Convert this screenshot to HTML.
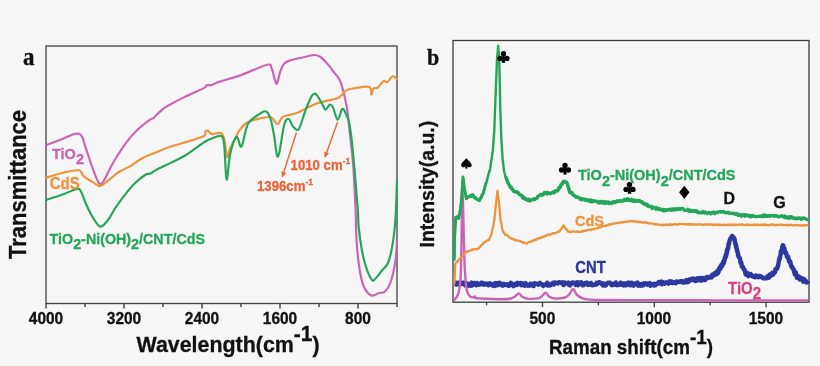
<!DOCTYPE html>
<html><head><meta charset="utf-8"><style>
html,body{margin:0;padding:0;background:#f6f6f6;}
svg{display:block;filter:blur(0.35px);}
</style></head><body>
<svg width="820" height="366" viewBox="0 0 820 366">
<rect x="0" y="0" width="820" height="366" fill="#f6f6f6"/>
<rect x="46" y="46" width="351" height="257.5" fill="none" stroke="#484848" stroke-width="1.35"/>
<line x1="46" y1="303.5" x2="46" y2="308.5" stroke="#3c3c3c" stroke-width="1.4"/>
<line x1="85" y1="303.5" x2="85" y2="307.0" stroke="#3c3c3c" stroke-width="1.4"/>
<line x1="124" y1="303.5" x2="124" y2="308.5" stroke="#3c3c3c" stroke-width="1.4"/>
<line x1="163" y1="303.5" x2="163" y2="307.0" stroke="#3c3c3c" stroke-width="1.4"/>
<line x1="202" y1="303.5" x2="202" y2="308.5" stroke="#3c3c3c" stroke-width="1.4"/>
<line x1="241" y1="303.5" x2="241" y2="307.0" stroke="#3c3c3c" stroke-width="1.4"/>
<line x1="280" y1="303.5" x2="280" y2="308.5" stroke="#3c3c3c" stroke-width="1.4"/>
<line x1="319" y1="303.5" x2="319" y2="307.0" stroke="#3c3c3c" stroke-width="1.4"/>
<line x1="358" y1="303.5" x2="358" y2="308.5" stroke="#3c3c3c" stroke-width="1.4"/>
<line x1="397" y1="303.5" x2="397" y2="307.0" stroke="#3c3c3c" stroke-width="1.4"/>
<text transform="translate(46,324.3) scale(1,1.07)" x="0" y="0" font-family="Liberation Sans, sans-serif" font-weight="bold" font-size="15.5" text-anchor="middle" fill="#111" stroke="#111" stroke-width="0.3">4000</text>
<text transform="translate(124,324.3) scale(1,1.07)" x="0" y="0" font-family="Liberation Sans, sans-serif" font-weight="bold" font-size="15.5" text-anchor="middle" fill="#111" stroke="#111" stroke-width="0.3">3200</text>
<text transform="translate(202,324.3) scale(1,1.07)" x="0" y="0" font-family="Liberation Sans, sans-serif" font-weight="bold" font-size="15.5" text-anchor="middle" fill="#111" stroke="#111" stroke-width="0.3">2400</text>
<text transform="translate(280,324.3) scale(1,1.07)" x="0" y="0" font-family="Liberation Sans, sans-serif" font-weight="bold" font-size="15.5" text-anchor="middle" fill="#111" stroke="#111" stroke-width="0.3">1600</text>
<text transform="translate(358,324.3) scale(1,1.07)" x="0" y="0" font-family="Liberation Sans, sans-serif" font-weight="bold" font-size="15.5" text-anchor="middle" fill="#111" stroke="#111" stroke-width="0.3">800</text>
<text transform="translate(136.5,351.5) scale(1,1.07)" x="0" y="0" font-family="Liberation Sans, sans-serif" font-weight="bold" font-size="21.4" fill="#111" stroke="#111" stroke-width="0.3">Wavelength(cm<tspan dy="-10" font-size="21">-1</tspan><tspan dy="10">)</tspan></text>
<text transform="translate(25.6,259) rotate(-90) scale(1,1.07)" x="0" y="0" font-family="Liberation Sans, sans-serif" font-weight="bold" font-size="22" fill="#111" stroke="#111" stroke-width="0.3">Transmittance</text>
<text transform="translate(23,64.5) scale(1,1.07)" x="0" y="0" font-family="Liberation Serif, serif" font-weight="bold" font-size="23" fill="#111" stroke="#111" stroke-width="0.3">a</text>
<path d="M46.0,145.0 C48.3,144.2 55.5,141.8 60.0,140.0 C64.5,138.2 69.8,135.6 72.8,134.5 C75.8,133.4 76.8,133.3 78.3,133.6 C79.8,133.9 80.7,134.0 82.0,136.5 C83.3,139.0 84.2,143.2 85.9,148.4 C87.7,153.7 90.5,162.5 92.5,168.0 C94.5,173.5 96.5,178.5 97.9,181.2 C99.4,183.9 99.9,184.9 101.2,184.3 C102.5,183.7 104.1,180.1 105.6,177.5 C107.1,174.9 108.1,172.0 110.0,168.5 C111.9,165.0 113.9,161.2 116.9,156.5 C119.9,151.8 124.1,145.2 127.8,140.6 C131.4,135.9 135.2,132.1 138.8,128.6 C142.5,125.1 147.3,121.5 149.7,119.8 C152.1,118.1 152.0,119.1 153.0,118.5 C154.0,117.9 154.2,117.2 155.5,116.0 C156.8,114.8 158.8,112.6 160.6,111.1 C162.4,109.6 162.3,109.1 166.2,106.8 C170.1,104.5 177.9,100.2 184.2,97.1 C190.5,94.0 200.0,90.1 203.8,88.1 C207.6,86.1 205.6,85.6 206.8,85.1 C208.1,84.6 209.1,85.7 211.3,85.1 C213.5,84.5 215.2,83.1 220.0,81.5 C224.8,79.9 232.2,78.3 240.1,75.5 C247.9,72.7 261.8,65.9 267.1,64.7 C272.4,63.6 270.4,66.2 271.7,68.6 C273.0,71.0 273.8,76.6 274.7,79.1 C275.6,81.6 275.9,84.6 276.8,83.6 C277.7,82.6 278.7,76.3 279.8,73.1 C280.9,69.8 282.1,66.2 283.7,64.1 C285.3,62.0 286.9,61.5 289.7,60.5 C292.4,59.5 296.2,58.9 300.2,58.0 C304.2,57.1 310.5,55.2 313.8,55.0 C317.1,54.8 317.6,55.1 319.8,56.5 C322.0,57.9 324.5,60.6 327.0,63.4 C329.5,66.2 332.4,70.2 334.6,73.1 C336.8,75.9 338.4,76.7 340.0,80.5 C341.6,84.3 343.3,90.9 344.5,96.0 C345.7,101.1 346.5,104.8 347.4,111.0 C348.3,117.2 349.1,126.7 349.8,133.2 C350.5,139.7 351.1,144.0 351.7,150.0 C352.3,156.0 352.9,159.0 353.5,169.0 C354.1,179.0 355.1,198.3 355.6,210.0 C356.1,221.7 355.9,229.2 356.5,239.0 C357.1,248.8 358.2,261.0 359.5,269.0 C360.8,277.0 362.0,282.6 364.0,287.0 C366.0,291.4 369.0,294.4 371.5,295.4 C374.0,296.4 376.8,293.6 379.0,293.0 C381.2,292.4 383.0,293.5 385.0,291.5 C387.0,289.5 389.2,286.2 391.0,281.0 C392.8,275.8 394.5,266.8 395.5,260.0 C396.5,253.2 396.8,243.3 397.0,240.0" fill="none" stroke="#c963b4" stroke-width="2.15" stroke-linejoin="round" stroke-linecap="round"/>
<path d="M46.0,177.8 C49.0,176.9 58.5,173.8 64.0,172.5 C69.5,171.2 75.7,169.7 79.0,170.3 C82.3,171.0 81.5,174.5 83.8,176.4 C86.0,178.3 89.8,180.3 92.5,181.9 C95.2,183.5 97.7,186.2 100.2,186.0 C102.8,185.8 104.7,183.1 107.8,180.8 C110.9,178.5 115.2,174.4 118.8,172.0 C122.4,169.6 126.2,168.7 129.7,166.6 C133.2,164.5 136.3,161.6 140.0,159.5 C143.7,157.4 147.7,155.8 151.9,154.0 C156.1,152.2 162.0,150.0 165.0,148.8 C168.0,147.6 163.8,148.8 170.0,146.8 C176.2,144.8 196.4,139.4 202.3,136.8 C208.2,134.2 204.3,132.0 205.3,131.0 C206.3,130.0 207.2,130.5 208.3,131.0 C209.4,131.5 209.8,133.8 211.9,134.1 C214.0,134.4 218.9,132.2 221.0,133.0 C223.1,133.8 223.2,135.0 224.2,139.0 C225.2,143.0 226.2,155.5 227.2,157.0 C228.2,158.5 228.7,151.4 230.2,148.0 C231.7,144.6 234.7,139.4 236.2,136.6 C237.7,133.8 237.0,133.4 239.0,131.0 C241.0,128.6 242.9,124.3 248.0,122.0 C253.1,119.7 264.9,116.9 269.5,117.0 C274.1,117.1 274.0,121.4 275.5,122.5 C277.0,123.6 277.2,124.4 278.5,123.5 C279.8,122.6 279.9,118.8 283.0,117.0 C286.1,115.2 292.7,114.7 297.0,113.0 C301.3,111.3 305.5,108.7 309.0,107.0 C312.5,105.3 313.5,104.4 318.0,103.0 C322.5,101.6 332.3,99.8 336.0,98.8 C339.7,97.8 338.2,98.1 340.0,96.7 C341.8,95.3 344.4,91.6 346.6,90.2 C348.8,88.8 349.3,89.0 353.1,88.5 C356.9,88.0 366.3,85.9 369.3,86.9 C372.3,87.9 370.6,94.2 371.3,94.5 C372.0,94.8 372.3,89.7 373.4,88.6 C374.5,87.5 376.0,89.0 377.7,87.7 C379.4,86.5 381.8,82.0 383.4,81.1 C385.0,80.1 386.0,82.8 387.5,82.0 C389.0,81.2 390.9,76.7 392.5,76.2 C394.1,75.7 396.2,78.5 397.0,78.9" fill="none" stroke="#ec933c" stroke-width="2.15" stroke-linejoin="round" stroke-linecap="round"/>
<path d="M46.0,200.0 C49.0,199.0 58.7,195.9 64.0,194.0 C69.3,192.1 74.7,188.9 77.6,188.7 C80.5,188.5 80.2,190.3 81.6,192.8 C83.0,195.3 84.1,199.8 85.9,203.8 C87.7,207.8 90.1,213.1 92.5,216.9 C94.9,220.7 97.7,226.1 100.2,226.7 C102.8,227.2 105.4,223.1 107.8,220.2 C110.2,217.3 111.9,213.3 114.4,209.5 C117.0,205.7 119.8,201.4 123.1,197.2 C126.4,193.0 130.4,187.8 134.1,184.1 C137.8,180.4 142.3,176.8 145.0,175.0 C147.7,173.2 148.8,174.3 150.5,173.6 C152.2,172.9 151.7,172.3 155.0,170.6 C158.3,168.8 165.1,165.6 170.1,163.1 C175.1,160.6 179.3,159.0 185.1,155.5 C190.8,152.0 200.1,144.8 204.6,142.0 C209.1,139.2 209.3,139.4 212.1,138.4 C214.9,137.4 219.2,134.9 221.2,136.0 C223.2,137.1 223.3,137.7 224.2,145.0 C225.1,152.3 225.6,178.1 226.6,179.6 C227.6,181.1 228.5,161.1 230.2,154.0 C231.8,146.9 234.6,138.2 236.5,137.0 C238.4,135.8 239.6,148.7 241.5,146.5 C243.4,144.3 244.9,129.5 248.0,124.0 C251.1,118.5 257.1,115.7 260.1,113.6 C263.1,111.5 264.4,110.6 266.1,111.5 C267.9,112.4 269.3,115.1 270.6,119.0 C271.9,122.9 272.8,128.7 274.0,135.0 C275.2,141.3 276.4,158.3 278.1,156.6 C279.8,154.9 282.4,131.3 284.1,125.0 C285.9,118.7 287.1,118.8 288.6,119.0 C290.1,119.2 291.5,124.8 293.1,126.5 C294.8,128.2 296.8,131.2 298.5,129.5 C300.2,127.8 302.4,119.4 303.6,116.0 C304.9,112.6 304.6,112.5 306.0,109.1 C307.4,105.7 310.2,98.0 312.0,95.6 C313.8,93.2 314.8,93.2 316.5,94.7 C318.2,96.2 321.0,102.1 322.5,104.6 C324.0,107.1 324.2,109.7 325.5,109.7 C326.8,109.7 328.7,104.9 330.0,104.6 C331.3,104.2 331.8,105.1 333.1,107.6 C334.4,110.1 336.1,119.5 337.6,119.7 C339.1,120.0 340.9,110.4 342.1,109.1 C343.4,107.8 344.0,110.1 345.1,112.1 C346.2,114.1 347.7,116.7 348.8,121.2 C349.9,125.7 350.5,129.2 351.6,139.2 C352.7,149.2 354.5,169.2 355.5,181.0 C356.5,192.8 357.2,201.8 357.8,210.0 C358.4,218.2 358.0,221.7 359.0,230.0 C360.0,238.3 361.9,251.8 364.0,260.0 C366.1,268.2 369.5,276.5 371.5,279.5 C373.5,282.5 374.2,279.5 376.0,278.0 C377.8,276.5 380.0,273.0 382.0,270.5 C384.0,268.0 386.2,267.2 388.0,263.0 C389.8,258.8 391.2,252.5 392.5,245.0 C393.8,237.5 394.8,228.7 395.5,218.0 C396.2,207.3 396.8,187.2 397.0,181.0" fill="none" stroke="#23a659" stroke-width="2.15" stroke-linejoin="round" stroke-linecap="round"/>
<text transform="translate(52,158.8) scale(1,1.07)" x="0" y="0" font-family="Liberation Sans, sans-serif" font-weight="bold" font-size="14.5" fill="#c963b4" stroke="#c963b4" stroke-width="0.3">TiO<tspan dy="4.5">2</tspan></text>
<text transform="translate(49.8,188.6) scale(1,1.07)" x="0" y="0" font-family="Liberation Sans, sans-serif" font-weight="bold" font-size="15" fill="#ec933c" stroke="#ec933c" stroke-width="0.3">CdS</text>
<text transform="translate(49.6,243.5) scale(1,1.07)" x="0" y="0" font-family="Liberation Sans, sans-serif" font-weight="bold" font-size="14.3" fill="#23a659" stroke="#23a659" stroke-width="0.3">TiO<tspan dy="5">2</tspan><tspan dy="-5">-Ni(OH)</tspan><tspan dy="5">2</tspan><tspan dy="-5">/CNT/CdS</tspan></text>
<line x1="296.5" y1="132.5" x2="283.8" y2="172.0" stroke="#e9653b" stroke-width="1.4"/><path d="M282,177.7 L281.4,171.2 L286.3,172.8 Z" fill="#e9653b"/>
<line x1="337.6" y1="122" x2="326.6" y2="152.4" stroke="#e9653b" stroke-width="1.4"/><path d="M324.6,158 L324.2,151.5 L329.1,153.2 Z" fill="#e9653b"/>
<text transform="translate(290.6,170.3) scale(1,1.07)" x="0" y="0" font-family="Liberation Sans, sans-serif" font-weight="bold" font-size="13.2" fill="#e9653b" stroke="#e9653b" stroke-width="0.3">1010 cm<tspan dy="-5.5" font-size="8.5">-1</tspan></text>
<text transform="translate(257,191.3) scale(1,1.07)" x="0" y="0" font-family="Liberation Sans, sans-serif" font-weight="bold" font-size="13.2" fill="#e9653b" stroke="#e9653b" stroke-width="0.3">1396cm<tspan dy="-5.5" font-size="8.5">-1</tspan></text>
<rect x="453" y="40.5" width="356" height="261.7" fill="none" stroke="#3c3c3c" stroke-width="1.3"/>
<line x1="486.6" y1="302.2" x2="486.6" y2="305.2" stroke="#3c3c3c" stroke-width="1.3"/>
<line x1="542.5" y1="302.2" x2="542.5" y2="307.2" stroke="#3c3c3c" stroke-width="1.3"/>
<line x1="598.4" y1="302.2" x2="598.4" y2="305.2" stroke="#3c3c3c" stroke-width="1.3"/>
<line x1="654.3" y1="302.2" x2="654.3" y2="307.2" stroke="#3c3c3c" stroke-width="1.3"/>
<line x1="710.2" y1="302.2" x2="710.2" y2="305.2" stroke="#3c3c3c" stroke-width="1.3"/>
<line x1="766.1" y1="302.2" x2="766.1" y2="307.2" stroke="#3c3c3c" stroke-width="1.3"/>
<text transform="translate(542.4,324) scale(1,1.07)" x="0" y="0" font-family="Liberation Sans, sans-serif" font-weight="bold" font-size="15.5" text-anchor="middle" fill="#111" stroke="#111" stroke-width="0.3">500</text>
<text transform="translate(653.9,324) scale(1,1.07)" x="0" y="0" font-family="Liberation Sans, sans-serif" font-weight="bold" font-size="15.5" text-anchor="middle" fill="#111" stroke="#111" stroke-width="0.3">1000</text>
<text transform="translate(765.9,324) scale(1,1.07)" x="0" y="0" font-family="Liberation Sans, sans-serif" font-weight="bold" font-size="15.5" text-anchor="middle" fill="#111" stroke="#111" stroke-width="0.3">1500</text>
<text transform="translate(549,353.7) scale(1,1.07)" x="0" y="0" font-family="Liberation Sans, sans-serif" font-weight="bold" font-size="18.8" fill="#111" stroke="#111" stroke-width="0.3">Raman shift(cm<tspan dy="-9.5">-1</tspan><tspan dy="9.5">)</tspan></text>
<text transform="translate(433.6,247.5) rotate(-90) scale(1,1.07)" x="0" y="0" font-family="Liberation Sans, sans-serif" font-weight="bold" font-size="19.5" fill="#111" stroke="#111" stroke-width="0.3">Intensity(a.u.)</text>
<text transform="translate(427,64.8) scale(1,1.07)" x="0" y="0" font-family="Liberation Serif, serif" font-weight="bold" font-size="22" fill="#111" stroke="#111" stroke-width="0.3">b</text>
<polyline points="454.7,283.5 455.5,282.9 456.3,284.6 457.1,282.7 457.9,284.2 458.7,283.7 459.5,282.6 460.3,284.2 461.1,282.6 461.9,283.9 462.7,282.7 463.6,282.7 464.4,283.9 465.2,285.3 466.0,282.9 466.8,283.2 467.6,284.6 468.4,285.7 469.2,284.4 470.0,283.8 470.8,285.8 471.6,282.6 472.4,285.4 473.2,283.5 474.0,283.0 474.8,282.9 475.6,283.5 476.4,285.3 477.2,283.1 478.0,284.5 478.8,284.7 479.6,283.8 480.5,284.4 481.3,282.7 482.1,282.7 482.9,283.2 483.7,284.8 484.5,284.0 485.3,283.6 486.1,284.5 486.9,284.1 487.7,283.6 488.5,285.3 489.3,284.9 490.1,283.4 490.9,284.5 491.7,284.4 492.5,285.6 493.3,285.1 494.1,283.6 494.9,285.9 495.7,283.0 496.5,284.0 497.4,285.2 498.2,283.1 499.0,284.3 499.8,282.7 500.6,284.9 501.4,285.2 502.2,284.6 503.0,285.6 503.8,283.7 504.6,285.0 505.4,284.7 506.2,284.6 507.0,284.2 507.8,285.5 508.6,285.9 509.4,284.3 510.2,284.9 511.0,282.9 511.8,285.1 512.6,284.9 513.4,286.1 514.2,285.5 515.1,283.7 515.9,284.0 516.7,285.0 517.5,282.8 518.3,284.3 519.1,283.3 519.9,283.1 520.7,282.9 521.5,285.3 522.3,283.2 523.1,283.6 523.9,284.1 524.7,285.7 525.5,283.0 526.3,284.3 527.1,284.6 527.9,285.7 528.7,285.5 529.5,285.7 530.3,283.7 531.1,284.2 532.0,284.0 532.8,285.8 533.6,286.0 534.4,283.3 535.2,283.4 536.0,283.6 536.8,283.6 537.6,284.4 538.4,284.8 539.2,283.7 540.0,282.8 540.8,284.2 541.6,284.0 542.4,284.6 543.3,285.9 544.1,285.0 544.9,284.4 545.7,284.7 546.5,284.9 547.3,282.8 548.1,285.6 549.0,285.2 549.8,285.5 550.6,285.2 551.4,283.8 552.2,283.8 553.0,282.7 553.9,284.5 554.7,282.5 555.5,282.5 556.3,283.0 557.1,282.8 557.9,283.4 558.7,282.4 559.6,282.2 560.4,282.7 561.2,282.5 562.0,283.3 562.8,282.2 563.6,285.1 564.4,284.2 565.2,282.6 566.0,283.0 566.8,283.3 567.6,283.3 568.4,282.5 569.2,285.0 570.0,285.5 570.8,283.7 571.6,283.7 572.4,282.4 573.2,282.4 574.0,283.3 574.8,283.0 575.6,284.9 576.4,282.6 577.2,282.2 578.0,285.3 578.9,283.9 579.7,282.6 580.5,283.9 581.3,282.2 582.1,283.9 582.9,285.4 583.7,285.0 584.5,284.5 585.3,283.0 586.1,283.3 586.9,282.7 587.7,284.7 588.5,283.9 589.3,284.7 590.1,283.2 590.9,282.9 591.7,284.9 592.5,285.4 593.3,285.0 594.1,284.8 594.9,284.9 595.7,284.6 596.5,282.9 597.3,283.9 598.1,283.3 598.9,282.2 599.7,282.2 600.5,283.1 601.3,283.0 602.1,284.5 602.9,285.4 603.7,283.6 604.5,285.3 605.3,285.5 606.1,285.3 606.9,283.3 607.7,282.8 608.5,282.9 609.3,282.8 610.1,282.8 610.9,284.2 611.8,285.2 612.6,285.0 613.4,283.7 614.2,284.3 615.0,284.8 615.8,282.4 616.6,284.3 617.4,285.2 618.2,284.8 619.0,284.7 619.8,283.7 620.6,282.7 621.4,284.8 622.2,283.2 623.0,284.8 623.8,285.4 624.6,283.4 625.4,283.5 626.2,285.3 627.0,284.6 627.8,282.7 628.6,282.6 629.4,282.7 630.2,285.3 631.0,284.9 631.9,282.7 632.7,285.1 633.5,285.6 634.3,284.5 635.1,283.5 635.9,284.2 636.7,282.8 637.5,282.5 638.3,285.7 639.2,284.7 640.0,284.3 640.8,285.7 641.6,284.0 642.4,285.5 643.2,285.4 644.0,283.3 644.8,283.5 645.6,283.7 646.5,283.5 647.3,284.7 648.1,283.6 648.9,284.2 649.7,283.2 650.5,285.8 651.3,283.8 652.1,284.1 653.0,284.5 653.8,285.5 654.6,283.7 655.4,285.3 656.2,283.9 657.0,283.9 657.8,283.8 658.7,282.0 659.5,283.3 660.3,282.4 661.1,281.7 661.9,284.3 662.7,282.1 663.6,283.0 664.4,283.8 665.2,283.1 666.0,282.3 666.8,282.9 667.6,282.9 668.4,283.6 669.3,281.2 670.1,282.7 670.9,281.5 671.7,281.5 672.5,283.1 673.3,282.2 674.1,282.3 674.9,282.9 675.8,283.3 676.6,281.6 677.4,282.1 678.2,281.7 679.0,281.6 679.8,282.1 680.6,281.2 681.4,281.4 682.2,281.2 683.1,282.7 683.9,281.8 684.7,282.3 685.5,282.4 686.3,280.0 687.1,281.0 687.9,282.2 688.7,281.7 689.5,279.3 690.4,279.1 691.2,280.1 692.0,278.8 692.8,279.3 693.6,278.6 694.4,280.6 695.2,280.8 696.0,281.1 696.8,278.4 697.6,280.2 698.4,279.9 699.2,278.0 700.0,280.4 700.8,280.6 701.7,277.9 702.5,280.3 703.3,278.3 704.2,278.4 705.0,280.0 705.8,279.4 706.7,276.9 707.5,277.7 708.3,277.9 709.2,277.2 710.0,276.6 710.8,276.5 711.5,277.5 712.2,274.7 713.0,276.0 713.8,275.2 714.5,273.3 715.2,274.0 716.0,274.5 716.5,273.5 717.0,271.2 717.5,273.7 718.0,272.3 718.5,272.3 719.0,268.6 719.5,268.5 720.0,267.0 720.4,268.8 720.8,266.3 721.3,265.1 721.7,265.3 722.1,266.2 722.5,265.2 722.9,262.5 723.4,261.4 723.8,263.3 724.2,261.3 724.5,260.9 724.7,258.0 725.0,257.1 725.2,258.4 725.5,256.7 725.7,254.6 726.0,256.8 726.2,254.9 726.5,254.6 726.7,251.3 726.9,253.1 727.1,249.6 727.3,251.4 727.5,249.2 727.8,248.0 728.0,247.8 728.2,248.3 728.4,245.2 728.6,243.8 728.9,244.3 729.1,242.5 729.4,241.2 729.7,240.5 730.0,239.3 730.2,238.9 730.5,238.5 731.1,237.6 731.6,238.3 732.2,235.9 732.8,237.4 733.4,237.2 734.0,238.6 734.3,238.3 734.5,240.0 734.8,240.0 735.0,243.3 735.3,243.6 735.5,243.2 735.8,245.0 736.0,247.4 736.2,245.5 736.5,248.7 736.7,248.3 736.9,249.3 737.1,251.3 737.3,250.7 737.6,251.9 737.8,253.4 738.0,255.2 738.2,253.9 738.5,256.4 738.7,256.8 739.0,257.4 739.2,257.4 739.5,258.1 739.7,257.9 740.0,259.0 740.2,259.6 740.5,262.7 740.8,261.8 741.1,262.3 741.4,262.8 741.8,266.1 742.1,267.0 742.4,267.1 742.7,266.6 743.0,267.2 743.4,268.1 743.8,269.5 744.2,269.2 744.7,270.9 745.1,271.0 745.5,274.2 746.2,274.7 747.0,273.8 747.8,273.2 748.5,276.2 749.2,274.5 750.0,275.1 750.9,274.2 751.8,275.8 752.6,276.4 753.5,276.8 754.4,276.1 755.2,277.2 756.0,275.5 756.8,276.5 757.6,276.0 758.4,277.1 759.3,275.9 760.1,275.9 760.9,276.9 761.7,276.8 762.5,278.0 763.3,277.9 764.1,278.5 764.9,277.9 765.6,277.9 766.4,278.3 767.2,276.4 768.0,276.0 768.8,277.8 769.7,274.5 770.5,276.0 771.4,275.3 772.2,272.8 772.8,274.9 773.3,274.4 773.9,272.9 774.4,272.6 775.0,272.2 775.4,269.1 775.8,269.6 776.2,268.8 776.7,269.2 777.1,268.3 777.5,267.6 777.8,265.9 778.0,266.1 778.2,264.5 778.5,263.7 778.8,261.3 779.0,259.7 779.2,259.2 779.5,259.1 779.7,257.4 779.8,259.1 780.0,257.3 780.2,256.7 780.3,255.9 780.5,255.3 780.7,253.8 780.8,251.3 781.0,253.2 781.3,252.2 781.5,250.5 781.8,249.7 782.0,249.3 782.3,246.4 782.5,247.8 782.8,245.3 783.2,245.5 783.6,247.1 784.1,249.5 784.5,248.6 784.9,251.3 785.3,253.0 785.6,252.2 786.0,252.7 786.4,253.9 786.7,255.4 787.0,256.6 787.4,256.9 787.7,257.8 788.0,256.7 788.4,257.8 788.7,258.9 789.0,261.4 789.3,260.7 789.7,262.3 790.0,261.2 790.4,262.1 790.7,263.5 791.0,265.6 791.4,266.4 791.7,267.1 792.1,266.6 792.5,268.2 792.9,268.8 793.3,269.6 793.7,269.2 794.1,272.6 794.5,271.1 794.9,274.4 795.3,274.9 795.8,272.5 796.2,274.7 796.6,276.6 797.0,277.8 797.7,276.5 798.4,276.3 799.0,276.6 799.7,279.5 800.4,277.5 801.0,279.2 801.7,278.1 802.4,279.9 803.2,281.6 804.1,279.1 804.9,281.7 805.8,280.9 806.6,282.4 807.5,282.0 808.3,280.7" fill="none" stroke="#2c389f" stroke-width="4.4" stroke-linejoin="round"/>
<path d="M453.7,300.8 C454.4,299.9 456.6,297.6 457.6,295.4 C458.6,293.2 458.9,292.2 459.5,287.8 C460.1,283.4 460.5,284.3 461.0,268.7 C461.5,253.1 461.9,199.2 462.4,194.4 C462.9,189.6 463.5,227.6 463.9,240.0 C464.3,252.4 464.3,260.4 464.8,268.7 C465.3,277.0 465.8,285.1 466.7,289.7 C467.6,294.3 468.8,295.1 470.0,296.4 C471.2,297.7 473.0,297.3 473.8,297.3 C474.6,297.3 474.3,296.2 474.8,296.4 C475.3,296.6 472.5,297.8 476.7,298.3 C480.9,298.8 494.4,299.2 500.0,299.3 C505.6,299.4 507.5,299.3 510.0,298.8 C512.5,298.3 513.5,297.4 515.0,296.5 C516.5,295.6 517.7,293.4 518.9,293.4 C520.1,293.4 520.6,295.6 522.0,296.5 C523.4,297.4 524.3,298.3 527.0,298.6 C529.7,298.9 535.5,298.8 538.0,298.4 C540.5,298.0 540.7,297.0 542.0,296.0 C543.3,295.0 544.5,292.5 545.7,292.6 C546.9,292.7 547.5,295.5 549.0,296.5 C550.5,297.5 552.3,298.3 555.0,298.5 C557.7,298.7 562.6,298.2 565.0,297.5 C567.4,296.8 568.1,295.4 569.5,294.0 C570.9,292.6 572.0,288.8 573.2,289.0 C574.5,289.2 575.2,293.4 577.0,295.0 C578.8,296.6 580.2,298.0 584.0,298.8 C587.8,299.6 589.0,299.8 600.0,300.0 C611.0,300.2 633.3,300.1 650.0,300.2 C666.7,300.2 683.3,300.3 700.0,300.3 C716.7,300.3 732.0,300.4 750.0,300.4 C768.0,300.4 798.3,300.4 808.0,300.4" fill="none" stroke="#c963b4" stroke-width="2.4" stroke-linejoin="round"/>
<polyline points="454.3,284.4 454.3,283.2 454.4,282.0 454.4,281.2 454.5,280.8 454.5,280.0 454.5,279.0 454.6,278.1 454.6,277.5 454.7,276.6 454.7,276.3 454.7,274.8 454.8,274.6 454.8,273.9 454.9,272.5 454.9,272.4 454.9,271.4 455.0,270.8 455.0,269.4 455.1,268.7 455.1,267.9 455.1,267.6 455.2,266.5 455.2,265.5 455.3,264.7 455.3,263.8 455.9,262.8 456.5,262.1 457.0,262.1 457.6,260.8 458.2,260.8 458.9,259.5 459.5,258.9 460.1,258.5 460.8,257.6 461.4,257.1 461.9,256.9 462.5,256.2 463.0,255.4 463.6,254.6 464.1,254.1 464.7,253.5 465.2,252.4 466.0,252.3 466.7,251.4 467.5,251.8 468.2,251.2 469.0,251.2 469.8,250.9 470.5,250.2 471.3,249.8 472.0,250.3 472.8,249.3 473.6,249.4 474.5,249.2 475.3,249.0 476.1,249.2 476.9,249.3 477.8,248.5 478.6,248.7 479.2,247.8 479.8,247.4 480.3,246.6 480.9,245.7 481.5,245.0 482.1,244.4 482.7,244.4 483.2,243.4 483.8,242.5 484.4,242.5 485.2,242.2 486.0,241.4 486.8,240.7 487.5,240.4 488.3,240.0 489.1,239.9 489.4,238.9 489.7,238.2 490.0,237.4 490.3,237.0 490.6,236.5 490.9,235.6 491.2,234.5 491.5,233.7 491.8,233.0 492.0,232.1 492.1,231.2 492.3,230.2 492.4,229.5 492.6,229.4 492.7,227.8 492.9,227.3 493.1,226.6 493.2,226.0 493.4,224.6 493.5,223.9 493.7,223.0 493.8,222.3 494.0,221.6 494.1,221.2 494.3,220.3 494.4,219.5 494.5,217.9 494.6,217.1 494.6,216.9 494.7,216.2 494.8,215.0 494.9,214.2 495.0,212.9 495.1,212.4 495.1,212.1 495.2,211.1 495.3,210.3 495.4,209.6 495.5,208.1 495.6,207.1 495.6,206.4 495.7,205.9 495.8,205.2 495.9,204.6 496.0,203.6 496.1,202.7 496.2,202.0 496.3,200.9 496.4,200.1 496.5,198.9 496.6,198.7 496.7,197.4 496.8,197.2 496.9,196.1 497.0,195.0 497.1,194.0 497.2,193.3 497.3,192.9 497.4,192.1 497.5,190.8 497.6,191.5 497.7,192.8 497.8,193.6 497.9,194.3 498.0,194.9 498.1,196.1 498.2,196.4 498.3,197.5 498.4,198.4 498.5,199.7 498.6,200.2 498.7,201.3 498.8,201.7 498.9,202.3 499.0,203.1 499.1,204.6 499.2,205.2 499.3,205.7 499.4,206.2 499.4,207.5 499.5,208.5 499.6,209.1 499.7,209.8 499.7,211.0 499.8,212.0 499.9,212.3 500.0,212.9 500.1,214.0 500.1,214.9 500.2,216.0 500.3,216.4 500.4,217.8 500.4,218.5 500.5,219.2 500.6,219.7 500.8,221.3 500.9,221.5 501.1,222.8 501.2,223.1 501.4,223.9 501.6,225.2 501.7,225.6 501.9,227.1 502.0,227.5 502.2,228.1 502.3,228.9 502.5,229.9 502.9,230.9 503.3,232.0 503.8,232.1 504.2,233.1 504.6,233.7 505.3,234.9 506.0,234.6 506.8,234.9 507.5,235.4 508.2,236.1 508.9,237.0 509.7,237.4 510.4,237.7 511.1,238.4 511.8,238.8 512.6,238.7 513.3,239.0 514.0,240.1 514.8,240.2 515.5,239.7 516.3,240.5 517.1,240.5 517.8,240.7 518.6,240.9 519.4,241.0 520.1,241.1 520.9,241.6 521.7,241.9 522.5,242.7 523.2,242.1 524.0,243.1 524.8,242.7 525.5,243.0 526.3,243.7 527.1,243.4 527.8,242.7 528.6,242.1 529.4,242.2 530.1,241.8 530.9,241.9 531.7,241.0 532.5,240.8 533.2,241.0 534.0,239.9 534.8,240.0 535.5,240.0 536.3,239.7 537.1,238.7 537.8,238.4 538.6,238.1 539.4,238.6 540.1,237.7 540.9,237.9 541.6,237.7 542.4,236.9 543.1,236.6 543.9,236.9 544.6,236.3 545.4,235.7 546.1,235.8 546.9,235.2 547.6,234.9 548.4,234.4 549.2,234.8 550.0,234.7 550.8,234.2 551.7,234.2 552.5,233.2 553.3,233.1 554.1,233.1 554.9,233.3 555.7,233.1 556.6,232.3 557.4,232.0 558.2,231.9 559.0,231.7 559.5,231.4 560.0,230.1 560.5,230.0 561.0,229.2 561.5,228.7 562.0,227.9 562.5,227.1 563.0,226.2 563.5,225.5 564.0,226.2 564.5,227.3 565.0,227.3 565.5,228.1 566.0,229.3 566.5,229.5 567.0,230.0 567.5,230.6 568.0,231.7 568.8,231.5 569.6,232.1 570.4,232.0 571.2,232.1 572.0,231.5 572.8,231.3 573.6,231.3 574.5,231.7 575.3,231.9 576.1,231.7 576.9,231.5 577.7,231.6 578.5,231.8 579.3,231.9 580.1,231.9 580.9,231.9 581.7,231.5 582.5,230.9 583.3,231.4 584.0,230.7 584.8,230.8 585.6,230.5 586.4,230.7 587.2,230.0 588.0,229.9 588.8,229.7 589.6,229.5 590.4,230.0 591.2,229.6 591.9,229.2 592.7,229.1 593.5,229.5 594.3,228.9 595.1,228.5 595.9,228.7 596.7,228.4 597.5,228.4 598.3,227.4 599.0,227.5 599.8,227.6 600.6,227.3 601.4,227.2 602.2,226.2 603.0,226.1 603.8,225.8 604.6,225.6 605.4,226.0 606.2,225.5 606.9,225.5 607.7,224.8 608.5,225.0 609.3,224.4 610.1,224.0 610.9,224.3 611.7,224.4 612.5,223.5 613.3,223.8 614.2,223.7 615.0,223.3 615.8,223.3 616.6,223.0 617.4,222.9 618.2,222.8 619.0,223.0 619.8,223.0 620.7,222.4 621.5,222.1 622.3,222.3 623.1,222.5 623.9,222.0 624.7,222.0 625.5,221.7 626.3,222.2 627.1,221.8 628.0,221.3 628.8,221.2 629.6,221.3 630.4,221.4 631.2,221.3 632.0,220.9 632.9,221.1 633.7,221.6 634.5,221.5 635.4,221.4 636.2,221.5 637.0,222.2 637.9,221.7 638.7,222.0 639.5,221.9 640.4,222.0 641.2,222.5 642.0,222.7 642.9,222.2 643.7,222.2 644.5,222.7 645.4,222.3 646.2,222.3 647.0,223.2 647.8,222.9 648.6,223.4 649.4,223.2 650.3,223.7 651.1,223.5 651.9,223.3 652.7,223.3 653.5,224.0 654.3,224.2 655.1,224.6 655.9,224.0 656.8,224.6 657.6,224.5 658.4,224.7 659.2,224.5 660.0,224.8 660.8,225.0 661.6,225.3 662.4,224.6 663.2,224.9 664.0,225.1 664.8,225.2 665.6,224.5 666.4,224.4 667.2,225.1 668.0,225.1 668.8,224.6 669.6,224.2 670.4,225.0 671.2,224.5 672.0,224.9 672.8,224.6 673.6,224.7 674.4,224.1 675.2,224.6 676.0,224.1 676.8,224.2 677.6,224.6 678.4,224.6 679.2,223.9 680.0,223.9 680.8,224.1 681.6,224.2 682.4,224.1 683.2,223.9 684.1,224.1 684.9,224.5 685.7,224.7 686.5,223.9 687.3,224.4 688.1,224.6 688.9,224.0 689.7,224.7 690.5,224.1 691.4,224.5 692.2,224.5 693.0,224.6 693.8,224.3 694.6,224.4 695.4,224.6 696.2,224.5 697.0,224.7 697.8,224.5 698.6,224.5 699.5,224.2 700.3,224.7 701.1,224.6 701.9,224.4 702.7,224.9 703.5,224.9 704.3,224.6 705.1,224.4 705.9,224.7 706.8,224.4 707.6,224.4 708.4,224.7 709.2,224.4 710.0,224.7 710.8,224.8 711.6,224.4 712.4,224.9 713.2,224.4 714.0,225.0 714.8,225.0 715.6,224.8 716.5,224.4 717.3,224.8 718.1,224.7 718.9,225.2 719.7,224.5 720.5,225.1 721.3,225.2 722.1,225.0 722.9,225.1 723.7,224.5 724.5,225.2 725.3,224.8 726.1,225.2 726.9,225.2 727.7,224.5 728.5,225.1 729.4,225.2 730.2,224.4 731.0,224.7 731.8,225.0 732.6,224.5 733.4,225.2 734.2,224.6 735.0,225.1 735.8,224.5 736.6,224.8 737.4,225.2 738.2,224.5 739.0,224.6 739.8,224.8 740.6,224.6 741.5,224.4 742.3,224.5 743.1,224.5 743.9,225.2 744.7,225.0 745.5,225.2 746.3,224.5 747.1,225.1 747.9,224.5 748.7,224.8 749.5,224.9 750.3,224.7 751.1,225.1 751.9,224.8 752.7,224.9 753.5,225.1 754.4,224.4 755.2,225.2 756.0,224.9 756.8,224.7 757.6,225.1 758.4,224.6 759.2,225.2 760.0,224.9 760.8,224.7 761.6,225.1 762.4,224.8 763.2,224.5 764.0,225.1 764.8,224.5 765.6,225.2 766.4,224.7 767.2,225.0 768.0,225.3 768.9,225.0 769.7,225.1 770.5,224.8 771.3,224.5 772.1,224.5 772.9,224.6 773.7,225.1 774.5,224.9 775.3,225.0 776.1,225.4 776.9,224.7 777.7,224.8 778.5,225.2 779.3,224.6 780.1,224.6 780.9,224.9 781.7,224.7 782.5,225.0 783.3,224.8 784.1,225.2 785.0,225.2 785.8,224.9 786.6,225.2 787.4,225.1 788.2,224.8 789.0,225.6 789.8,224.9 790.6,224.9 791.4,224.8 792.2,225.3 793.0,225.5 793.8,225.5 794.6,225.1 795.4,225.0 796.2,224.8 797.0,225.4 797.8,225.3 798.6,225.1 799.4,225.4 800.2,225.2 801.1,225.7 801.9,225.5 802.7,225.1 803.5,225.7 804.3,224.9 805.1,225.4 805.9,225.3 806.7,225.1 807.5,225.0 808.3,225.7" fill="none" stroke="#ec933c" stroke-width="2.3" stroke-linejoin="round"/>
<polyline points="454.2,259.0 454.2,259.4 454.2,259.5 454.2,257.2 454.3,256.6 454.3,256.7 454.3,255.8 454.3,255.3 454.3,254.9 454.3,253.0 454.3,252.5 454.3,251.8 454.4,250.6 454.4,251.6 454.4,250.6 454.4,249.8 454.4,247.7 454.4,248.6 454.4,247.7 454.4,246.4 454.5,246.3 454.5,245.0 454.5,243.8 454.5,242.9 454.5,242.4 454.5,241.3 454.5,241.2 454.5,241.3 454.6,240.5 454.6,240.1 454.6,239.1 454.6,237.5 454.6,237.4 454.7,236.5 454.7,236.4 454.8,235.2 454.8,234.0 454.8,234.0 454.9,234.0 454.9,231.8 454.9,232.4 455.0,229.9 455.0,229.7 455.1,228.9 455.1,229.3 455.1,228.9 455.2,227.8 455.2,226.3 455.2,226.7 455.3,224.9 455.3,224.0 455.4,224.6 455.4,223.3 455.4,222.8 455.5,222.0 455.5,221.9 455.5,220.2 455.6,220.2 455.6,219.2 455.7,218.8 455.7,217.3 456.5,217.4 457.3,216.6 457.7,216.7 458.2,217.2 458.6,218.6 458.8,216.8 458.9,217.8 459.1,215.5 459.2,214.6 459.4,214.0 459.6,215.0 459.7,213.1 459.9,212.0 460.0,211.0 460.2,210.3 460.3,210.9 460.5,210.1 460.6,209.5 460.6,208.9 460.7,206.8 460.8,207.2 460.8,206.0 460.9,206.2 460.9,205.5 461.0,205.0 461.1,202.6 461.1,203.5 461.2,202.9 461.3,202.3 461.3,199.9 461.4,199.4 461.5,198.5 461.5,197.7 461.6,198.6 461.6,197.8 461.7,196.8 461.8,196.5 461.8,195.4 461.9,194.0 461.9,192.9 462.0,192.2 462.0,192.8 462.1,191.0 462.1,190.5 462.2,190.0 462.2,188.5 462.3,188.3 462.3,187.7 462.4,187.8 462.4,186.4 462.4,185.6 462.5,186.2 462.5,184.6 462.6,184.6 462.6,183.4 462.7,181.6 462.7,181.6 462.8,181.0 462.8,180.9 462.9,179.4 462.9,179.4 463.0,178.4 463.0,177.0 463.1,179.1 463.2,178.3 463.3,180.5 463.4,179.9 463.5,180.3 463.6,181.4 463.7,183.3 463.7,184.5 463.8,183.3 463.9,185.0 464.0,185.7 464.1,187.1 464.2,186.6 464.3,187.9 464.4,188.4 464.5,190.1 464.7,189.7 464.8,191.8 465.0,191.2 465.1,191.8 465.3,193.5 465.4,193.9 465.6,193.8 465.7,195.6 465.9,195.2 466.0,197.4 466.2,198.0 466.3,198.9 467.0,198.1 467.7,197.1 468.4,196.7 469.1,196.2 469.9,197.0 470.7,195.2 471.4,196.6 472.2,194.7 473.0,194.8 473.5,195.5 474.1,197.3 474.6,197.0 475.2,197.3 475.7,198.9 476.3,198.1 476.8,199.1 477.5,199.5 478.2,200.2 479.0,200.5 479.7,200.5 480.0,199.3 480.3,198.6 480.6,197.6 481.0,198.3 481.3,197.3 481.6,196.8 481.9,195.0 482.2,194.9 482.6,195.0 482.9,193.9 483.2,192.4 483.5,192.4 483.7,192.6 483.9,190.6 484.1,189.8 484.3,189.4 484.5,189.5 484.7,189.1 484.8,187.0 485.0,186.3 485.2,185.8 485.4,185.3 485.6,185.0 485.8,183.6 486.0,183.2 486.2,182.2 486.4,183.1 486.6,181.9 486.8,180.0 487.0,181.0 487.1,178.6 487.3,178.5 487.5,179.0 487.7,178.0 487.9,177.1 488.1,175.9 488.3,174.7 488.5,174.9 488.7,173.1 488.9,172.6 489.1,172.2 489.4,170.8 489.6,170.8 489.8,170.9 490.0,170.0 490.1,168.9 490.2,168.4 490.3,167.4 490.4,166.0 490.5,166.3 490.6,165.1 490.7,165.1 490.8,164.7 490.9,163.1 491.0,162.6 491.1,162.3 491.2,160.9 491.3,159.8 491.4,160.1 491.6,159.7 491.7,158.8 491.8,157.9 491.9,157.5 492.0,156.5 492.1,155.7 492.2,154.6 492.3,153.6 492.4,153.5 492.5,151.7 492.6,151.7 492.7,151.7 492.8,150.8 492.9,150.0 493.0,148.5 493.0,148.1 493.1,147.5 493.1,147.1 493.2,146.0 493.2,145.8 493.3,145.6 493.3,143.4 493.4,143.7 493.4,143.2 493.5,141.7 493.5,141.2 493.6,141.5 493.6,138.9 493.7,139.2 493.7,137.8 493.8,138.3 493.8,137.9 493.9,136.4 493.9,134.8 494.0,135.1 494.0,134.3 494.1,134.0 494.1,132.8 494.2,132.4 494.2,132.1 494.3,130.7 494.3,129.8 494.3,130.2 494.4,128.0 494.4,128.2 494.4,126.9 494.4,127.0 494.5,125.0 494.5,126.0 494.5,124.0 494.5,122.7 494.6,122.4 494.6,121.9 494.6,120.5 494.6,120.6 494.7,119.8 494.7,119.7 494.7,118.3 494.7,117.4 494.8,116.6 494.8,116.9 494.8,116.6 494.9,115.1 494.9,113.7 494.9,114.2 494.9,112.6 495.0,111.6 495.0,110.7 495.0,111.3 495.0,110.6 495.1,109.6 495.1,108.5 495.1,108.0 495.1,106.6 495.2,107.4 495.2,105.4 495.2,105.3 495.2,104.9 495.3,104.2 495.3,102.8 495.3,101.7 495.3,101.5 495.4,100.0 495.4,100.7 495.4,99.0 495.5,99.3 495.5,97.4 495.5,96.9 495.5,96.0 495.6,95.6 495.6,94.5 495.6,93.4 495.7,94.1 495.7,92.5 495.7,91.8 495.7,91.2 495.8,90.8 495.8,90.0 495.8,89.7 495.8,89.1 495.9,87.8 495.9,88.2 495.9,87.4 496.0,85.1 496.0,85.9 496.0,85.4 496.0,84.4 496.1,82.4 496.1,83.1 496.1,82.0 496.2,80.1 496.2,79.4 496.2,80.6 496.2,79.3 496.3,77.7 496.3,76.7 496.3,76.1 496.4,75.6 496.4,76.0 496.4,74.4 496.4,73.3 496.5,74.1 496.5,73.2 496.5,71.3 496.6,72.0 496.6,70.7 496.6,70.4 496.6,69.5 496.7,69.2 496.7,68.3 496.7,67.7 496.7,65.7 496.8,66.0 496.8,65.0 496.8,64.7 496.9,63.4 496.9,63.6 496.9,62.2 496.9,60.9 497.0,60.2 497.0,59.3 497.1,59.3 497.1,57.7 497.2,57.8 497.2,56.5 497.3,56.5 497.4,55.8 497.4,55.2 497.5,55.1 497.5,52.7 497.6,53.7 497.7,52.2 497.7,51.7 497.8,51.2 497.8,50.9 497.9,49.2 498.0,48.6 498.0,49.0 498.1,46.6 498.1,47.0 498.2,46.3 498.3,45.8 498.3,47.6 498.4,48.5 498.4,49.7 498.5,49.2 498.5,51.2 498.6,50.9 498.6,51.6 498.7,53.1 498.8,52.1 498.8,54.1 498.9,54.7 498.9,54.8 499.0,56.5 499.0,56.2 499.1,57.1 499.1,58.0 499.2,59.1 499.2,58.7 499.3,59.9 499.3,60.5 499.3,61.5 499.3,62.8 499.4,62.4 499.4,64.2 499.4,64.0 499.4,64.9 499.4,65.2 499.4,66.4 499.4,68.0 499.5,68.1 499.5,69.0 499.5,68.8 499.5,69.5 499.5,70.2 499.5,71.4 499.5,72.2 499.6,73.2 499.6,72.5 499.6,74.5 499.6,75.6 499.6,75.6 499.6,75.3 499.6,76.5 499.7,76.6 499.7,77.7 499.7,79.9 499.7,79.9 499.7,80.7 499.7,81.7 499.7,82.7 499.8,82.8 499.8,83.5 499.8,84.2 499.8,85.0 499.8,85.5 499.8,86.4 499.8,86.2 499.8,87.8 499.9,88.1 499.9,89.4 499.9,88.8 499.9,89.6 499.9,90.1 499.9,92.2 499.9,93.2 500.0,93.4 500.0,93.5 500.0,95.2 500.0,95.8 500.0,96.0 500.0,96.1 500.0,96.9 500.1,97.9 500.1,98.4 500.1,99.3 500.1,100.4 500.1,101.7 500.1,100.7 500.1,102.4 500.2,102.0 500.2,102.9 500.2,105.0 500.2,105.2 500.2,106.6 500.2,106.4 500.2,106.2 500.3,107.7 500.3,108.8 500.3,110.2 500.3,111.0 500.3,110.7 500.4,111.3 500.4,111.3 500.4,113.1 500.4,113.0 500.5,113.6 500.5,114.0 500.5,114.7 500.5,116.8 500.6,116.4 500.6,118.8 500.6,117.7 500.6,120.0 500.7,119.3 500.7,119.7 500.7,121.9 500.7,121.6 500.8,123.3 500.8,122.9 500.8,123.4 500.9,125.5 500.9,126.1 500.9,127.1 500.9,127.6 501.0,127.0 501.0,128.8 501.0,129.7 501.0,129.9 501.1,131.6 501.1,130.9 501.1,133.1 501.1,133.3 501.2,132.6 501.2,133.3 501.2,135.3 501.2,136.3 501.3,135.6 501.3,136.8 501.3,138.3 501.3,137.9 501.4,140.0 501.4,140.0 501.4,139.8 501.5,141.2 501.5,142.3 501.6,142.7 501.6,143.9 501.7,143.6 501.7,145.6 501.8,145.4 501.8,146.7 501.9,147.4 501.9,147.7 502.0,148.3 502.0,149.9 502.0,150.9 502.1,151.3 502.1,151.6 502.2,151.7 502.2,152.0 502.3,154.5 502.3,154.7 502.4,155.7 502.4,155.4 502.5,156.6 502.5,158.1 502.6,158.5 502.6,158.8 502.7,158.9 502.7,159.9 502.8,161.5 502.9,161.2 503.0,162.5 503.1,163.1 503.2,164.4 503.3,164.9 503.4,164.6 503.4,164.7 503.5,166.0 503.6,167.0 503.7,168.0 503.8,169.2 503.9,170.1 504.0,169.1 504.2,171.4 504.3,172.0 504.5,172.9 504.7,173.0 504.8,173.1 505.0,175.0 505.2,175.6 505.3,176.1 505.5,177.2 505.8,176.8 506.1,177.0 506.4,178.7 506.6,179.9 506.9,179.4 507.2,181.3 507.5,182.4 507.9,181.7 508.2,183.2 508.6,184.1 508.9,184.4 509.2,184.6 509.6,185.4 510.1,186.9 510.5,187.5 511.0,187.4 511.4,187.2 511.9,189.2 512.3,189.6 512.8,189.1 513.2,190.3 513.7,191.5 514.4,191.8 515.0,191.4 515.7,191.7 516.4,192.3 517.0,191.8 517.7,192.2 518.2,192.6 518.8,194.1 519.4,193.9 519.9,194.8 520.5,195.0 521.0,195.7 521.6,195.4 522.1,195.6 522.7,198.0 523.2,197.2 523.8,197.1 524.4,198.6 525.0,199.3 525.5,198.4 526.1,199.7 526.7,199.6 527.3,200.3 528.1,199.2 528.9,199.2 529.7,201.0 530.4,200.6 531.2,199.8 532.0,199.8 532.8,199.1 533.5,199.8 534.1,198.8 534.8,199.5 535.5,198.8 536.2,198.6 536.9,198.5 537.5,196.7 538.2,196.0 538.8,195.9 539.4,195.5 540.0,194.9 540.6,194.4 541.3,195.1 541.9,195.3 542.5,194.1 543.1,194.7 543.7,194.2 544.4,192.5 545.2,193.5 545.9,193.0 546.7,192.4 547.4,194.0 548.2,192.6 548.9,193.1 549.7,193.2 550.4,193.8 551.2,193.2 551.9,192.6 552.6,192.4 553.2,191.6 553.9,192.9 554.6,192.7 555.3,190.9 555.9,190.3 556.6,190.5 557.3,190.4 557.7,190.9 558.1,190.3 558.5,189.5 558.9,187.4 559.3,188.2 559.8,187.5 560.2,186.7 560.6,186.8 561.0,184.3 561.4,183.9 561.8,184.4 562.2,184.1 562.7,182.9 563.1,181.5 563.5,181.4 564.2,182.1 564.9,181.2 565.5,182.0 566.2,182.3 566.9,182.4 567.1,183.8 567.4,183.9 567.6,184.7 567.8,185.2 568.0,187.0 568.2,186.3 568.5,188.4 568.7,188.1 568.9,188.4 569.1,190.9 569.4,190.2 569.6,192.3 570.1,192.6 570.7,193.1 571.2,192.1 571.8,193.2 572.4,193.0 572.9,195.1 573.5,195.4 574.0,195.5 574.6,195.6 575.1,195.9 575.8,197.2 576.5,196.9 577.2,197.6 577.9,197.0 578.6,197.6 579.3,197.6 580.0,199.3 580.7,199.1 581.4,198.4 582.2,200.0 582.9,198.9 583.6,199.4 584.3,199.0 585.0,199.3 585.8,200.6 586.5,199.7 587.2,199.5 587.9,200.3 588.6,200.1 589.3,201.4 590.1,199.9 590.8,201.8 591.5,200.1 592.2,201.9 592.9,201.6 593.7,200.8 594.4,201.4 595.1,201.2 595.8,201.2 596.5,201.1 597.2,201.5 598.0,202.9 598.7,203.0 599.4,202.9 600.1,201.3 600.8,201.8 601.5,203.0 602.2,201.4 603.0,202.8 603.7,202.0 604.4,203.5 605.1,201.6 605.8,203.3 606.5,202.4 607.2,202.1 608.0,201.9 608.7,203.6 609.4,203.1 610.1,202.5 610.8,202.8 611.5,203.6 612.2,202.1 612.9,202.7 613.6,201.7 614.3,201.6 614.9,202.7 615.6,202.4 616.3,201.2 617.0,200.9 617.7,200.8 618.4,201.7 619.1,201.3 619.8,200.7 620.5,200.4 621.2,201.1 621.9,201.2 622.6,201.2 623.3,200.6 623.9,199.7 624.6,199.3 625.3,200.5 626.0,199.7 626.7,200.2 627.4,198.7 628.1,200.1 628.8,199.3 629.5,200.4 630.2,200.6 630.9,200.0 631.7,199.1 632.4,201.1 633.1,200.3 633.8,201.2 634.5,200.1 635.2,200.1 635.9,201.5 636.6,200.7 637.4,200.4 638.1,201.0 638.8,201.5 639.5,200.5 640.2,201.6 640.8,201.8 641.5,202.3 642.1,201.8 642.7,203.3 643.4,203.8 644.0,204.2 644.6,203.5 645.3,204.5 645.9,204.2 646.5,205.3 647.1,204.2 647.8,206.1 648.4,206.6 649.0,206.0 649.7,206.4 650.3,206.7 650.9,207.0 651.6,206.3 652.2,208.5 652.9,207.2 653.6,207.3 654.3,207.3 655.0,207.8 655.8,209.1 656.5,207.7 657.2,208.0 657.9,209.3 658.6,208.5 659.3,208.3 660.0,209.6 660.7,209.8 661.4,209.8 662.2,210.3 662.9,209.3 663.6,211.0 664.3,210.9 665.0,209.7 665.7,209.7 666.4,210.4 667.1,210.3 667.9,209.8 668.6,209.3 669.3,209.8 670.0,209.2 670.7,210.0 671.4,210.4 672.1,208.9 672.9,209.6 673.6,209.9 674.3,208.6 675.0,209.9 675.7,210.0 676.4,208.8 677.1,208.7 677.9,209.5 678.6,208.8 679.3,208.4 680.0,209.4 680.7,209.2 681.4,208.5 682.1,208.4 682.9,208.7 683.6,209.1 684.3,210.3 685.0,210.1 685.7,210.5 686.4,210.4 687.1,210.6 687.9,209.2 688.6,210.2 689.3,211.3 690.0,211.4 690.7,210.1 691.4,210.6 692.1,211.2 692.9,210.8 693.6,211.3 694.3,210.5 695.0,211.4 695.7,211.6 696.4,210.7 697.1,211.0 697.9,212.7 698.6,212.4 699.3,212.8 700.0,212.3 700.7,212.7 701.4,212.9 702.1,213.0 702.9,211.4 703.6,212.6 704.3,212.0 705.0,212.9 705.7,212.1 706.4,212.7 707.1,213.6 707.9,213.0 708.6,212.4 709.3,213.0 710.0,212.9 710.7,213.9 711.4,212.5 712.1,212.5 712.9,213.1 713.6,212.0 714.3,212.9 715.0,213.6 715.7,212.7 716.4,212.2 717.1,212.5 717.9,212.6 718.6,211.8 719.3,211.7 720.0,211.7 720.7,211.9 721.4,212.1 722.1,211.8 722.9,211.7 723.6,211.4 724.3,212.2 725.0,212.8 725.7,212.5 726.4,212.5 727.1,212.8 727.9,212.1 728.6,213.2 729.3,212.9 730.0,213.2 730.7,213.5 731.4,213.3 732.1,213.1 732.9,213.2 733.6,213.3 734.3,214.0 735.0,213.9 735.7,214.4 736.4,213.4 737.1,214.2 737.9,215.4 738.6,214.3 739.3,215.1 740.0,215.1 740.7,214.7 741.4,216.2 742.2,214.9 742.9,215.9 743.6,214.7 744.3,214.6 745.1,216.3 745.8,215.5 746.5,214.8 747.2,215.5 747.9,215.7 748.7,216.3 749.4,215.1 750.1,215.4 750.8,216.9 751.6,216.6 752.3,215.4 753.0,215.9 753.7,215.9 754.4,216.5 755.2,216.3 755.9,216.8 756.6,216.7 757.3,216.1 758.0,216.5 758.8,216.5 759.5,216.5 760.2,215.9 760.9,216.5 761.6,216.3 762.4,216.7 763.1,215.1 763.8,216.5 764.5,214.8 765.2,216.3 766.0,215.9 766.7,215.7 767.4,216.6 768.1,215.8 768.8,215.4 769.6,216.1 770.3,216.3 771.0,215.7 771.7,215.3 772.4,215.5 773.1,215.6 773.8,216.2 774.5,215.4 775.2,215.7 776.0,216.1 776.7,215.8 777.4,215.8 778.1,216.8 778.8,217.0 779.5,216.4 780.2,216.3 780.9,215.9 781.6,216.2 782.3,215.9 783.0,216.9 783.7,217.0 784.5,216.0 785.2,217.8 785.9,216.7 786.6,217.8 787.3,217.8 788.0,218.1 788.7,216.7 789.4,217.2 790.1,218.2 790.8,216.5 791.5,216.6 792.2,217.7 792.9,217.7 793.6,218.6 794.3,218.3 795.0,217.9 795.7,218.9 796.4,218.0 797.1,218.1 797.8,218.5 798.5,217.9 799.2,217.9 799.9,218.5 800.6,218.0 801.3,219.3 802.0,218.8 802.7,218.6 803.4,217.8 804.1,218.4 804.8,218.5 805.5,218.9 806.2,219.0 806.9,219.6 807.6,219.9 808.3,219.0" fill="none" stroke="#23a659" stroke-width="2.4" stroke-linejoin="round"/>
<polyline points="506.1,177.0 506.4,178.7 506.6,179.9 506.9,179.4 507.2,181.3 507.5,182.4 507.9,181.7 508.2,183.2 508.6,184.1 508.9,184.4 509.2,184.6 509.6,185.4 510.1,186.9 510.5,187.5 511.0,187.4 511.4,187.2 511.9,189.2 512.3,189.6 512.8,189.1 513.2,190.3 513.7,191.5 514.4,191.8 515.0,191.4 515.7,191.7 516.4,192.3 517.0,191.8 517.7,192.2 518.2,192.6 518.8,194.1 519.4,193.9 519.9,194.8 520.5,195.0 521.0,195.7 521.6,195.4 522.1,195.6 522.7,198.0 523.2,197.2 523.8,197.1 524.4,198.6 525.0,199.3 525.5,198.4 526.1,199.7 526.7,199.6 527.3,200.3 528.1,199.2 528.9,199.2 529.7,201.0 530.4,200.6 531.2,199.8 532.0,199.8 532.8,199.1 533.5,199.8 534.1,198.8 534.8,199.5 535.5,198.8 536.2,198.6 536.9,198.5 537.5,196.7 538.2,196.0 538.8,195.9 539.4,195.5 540.0,194.9 540.6,194.4 541.3,195.1 541.9,195.3 542.5,194.1 543.1,194.7 543.7,194.2 544.4,192.5 545.2,193.5 545.9,193.0 546.7,192.4 547.4,194.0 548.2,192.6 548.9,193.1 549.7,193.2 550.4,193.8 551.2,193.2 551.9,192.6 552.6,192.4 553.2,191.6 553.9,192.9 554.6,192.7 555.3,190.9 555.9,190.3 556.6,190.5 557.3,190.4 557.7,190.9 558.1,190.3 558.5,189.5 558.9,187.4 559.3,188.2 559.8,187.5 560.2,186.7 560.6,186.8 561.0,184.3 561.4,183.9 561.8,184.4 562.2,184.1 562.7,182.9 563.1,181.5 563.5,181.4 564.2,182.1 564.9,181.2 565.5,182.0 566.2,182.3 566.9,182.4 567.1,183.8 567.4,183.9 567.6,184.7 567.8,185.2 568.0,187.0 568.2,186.3 568.5,188.4 568.7,188.1 568.9,188.4 569.1,190.9 569.4,190.2 569.6,192.3 570.1,192.6 570.7,193.1 571.2,192.1 571.8,193.2 572.4,193.0 572.9,195.1 573.5,195.4 574.0,195.5 574.6,195.6 575.1,195.9 575.8,197.2 576.5,196.9 577.2,197.6 577.9,197.0 578.6,197.6 579.3,197.6 580.0,199.3 580.7,199.1 581.4,198.4 582.2,200.0 582.9,198.9 583.6,199.4 584.3,199.0 585.0,199.3 585.8,200.6 586.5,199.7 587.2,199.5 587.9,200.3 588.6,200.1 589.3,201.4 590.1,199.9 590.8,201.8 591.5,200.1 592.2,201.9 592.9,201.6 593.7,200.8 594.4,201.4 595.1,201.2 595.8,201.2 596.5,201.1 597.2,201.5 598.0,202.9 598.7,203.0 599.4,202.9 600.1,201.3 600.8,201.8 601.5,203.0 602.2,201.4 603.0,202.8 603.7,202.0 604.4,203.5 605.1,201.6 605.8,203.3 606.5,202.4 607.2,202.1 608.0,201.9 608.7,203.6 609.4,203.1 610.1,202.5 610.8,202.8 611.5,203.6 612.2,202.1 612.9,202.7 613.6,201.7 614.3,201.6 614.9,202.7 615.6,202.4 616.3,201.2 617.0,200.9 617.7,200.8 618.4,201.7 619.1,201.3 619.8,200.7 620.5,200.4 621.2,201.1 621.9,201.2 622.6,201.2 623.3,200.6 623.9,199.7 624.6,199.3 625.3,200.5 626.0,199.7 626.7,200.2 627.4,198.7 628.1,200.1 628.8,199.3 629.5,200.4 630.2,200.6 630.9,200.0 631.7,199.1 632.4,201.1 633.1,200.3 633.8,201.2 634.5,200.1 635.2,200.1 635.9,201.5 636.6,200.7 637.4,200.4 638.1,201.0 638.8,201.5 639.5,200.5 640.2,201.6 640.8,201.8 641.5,202.3 642.1,201.8 642.7,203.3 643.4,203.8 644.0,204.2 644.6,203.5 645.3,204.5 645.9,204.2 646.5,205.3 647.1,204.2 647.8,206.1 648.4,206.6 649.0,206.0 649.7,206.4 650.3,206.7 650.9,207.0 651.6,206.3 652.2,208.5 652.9,207.2 653.6,207.3 654.3,207.3 655.0,207.8 655.8,209.1 656.5,207.7 657.2,208.0 657.9,209.3 658.6,208.5 659.3,208.3 660.0,209.6 660.7,209.8 661.4,209.8 662.2,210.3 662.9,209.3 663.6,211.0 664.3,210.9 665.0,209.7 665.7,209.7 666.4,210.4 667.1,210.3 667.9,209.8 668.6,209.3 669.3,209.8 670.0,209.2 670.7,210.0 671.4,210.4 672.1,208.9 672.9,209.6 673.6,209.9 674.3,208.6 675.0,209.9 675.7,210.0 676.4,208.8 677.1,208.7 677.9,209.5 678.6,208.8 679.3,208.4 680.0,209.4 680.7,209.2 681.4,208.5 682.1,208.4 682.9,208.7 683.6,209.1 684.3,210.3 685.0,210.1 685.7,210.5 686.4,210.4 687.1,210.6 687.9,209.2 688.6,210.2 689.3,211.3 690.0,211.4 690.7,210.1 691.4,210.6 692.1,211.2 692.9,210.8 693.6,211.3 694.3,210.5 695.0,211.4 695.7,211.6 696.4,210.7 697.1,211.0 697.9,212.7 698.6,212.4 699.3,212.8 700.0,212.3 700.7,212.7 701.4,212.9 702.1,213.0 702.9,211.4 703.6,212.6 704.3,212.0 705.0,212.9 705.7,212.1 706.4,212.7 707.1,213.6 707.9,213.0 708.6,212.4 709.3,213.0 710.0,212.9 710.7,213.9 711.4,212.5 712.1,212.5 712.9,213.1 713.6,212.0 714.3,212.9 715.0,213.6 715.7,212.7 716.4,212.2 717.1,212.5 717.9,212.6 718.6,211.8 719.3,211.7 720.0,211.7 720.7,211.9 721.4,212.1 722.1,211.8 722.9,211.7 723.6,211.4 724.3,212.2 725.0,212.8 725.7,212.5 726.4,212.5 727.1,212.8 727.9,212.1 728.6,213.2 729.3,212.9 730.0,213.2 730.7,213.5 731.4,213.3 732.1,213.1 732.9,213.2 733.6,213.3 734.3,214.0 735.0,213.9 735.7,214.4 736.4,213.4 737.1,214.2 737.9,215.4 738.6,214.3 739.3,215.1 740.0,215.1 740.7,214.7 741.4,216.2 742.2,214.9 742.9,215.9 743.6,214.7 744.3,214.6 745.1,216.3 745.8,215.5 746.5,214.8 747.2,215.5 747.9,215.7 748.7,216.3 749.4,215.1 750.1,215.4 750.8,216.9 751.6,216.6 752.3,215.4 753.0,215.9 753.7,215.9 754.4,216.5 755.2,216.3 755.9,216.8 756.6,216.7 757.3,216.1 758.0,216.5 758.8,216.5 759.5,216.5 760.2,215.9 760.9,216.5 761.6,216.3 762.4,216.7 763.1,215.1 763.8,216.5 764.5,214.8 765.2,216.3 766.0,215.9 766.7,215.7 767.4,216.6 768.1,215.8 768.8,215.4 769.6,216.1 770.3,216.3 771.0,215.7 771.7,215.3 772.4,215.5 773.1,215.6 773.8,216.2 774.5,215.4 775.2,215.7 776.0,216.1 776.7,215.8 777.4,215.8 778.1,216.8 778.8,217.0 779.5,216.4 780.2,216.3 780.9,215.9 781.6,216.2 782.3,215.9 783.0,216.9 783.7,217.0 784.5,216.0 785.2,217.8 785.9,216.7 786.6,217.8 787.3,217.8 788.0,218.1 788.7,216.7 789.4,217.2 790.1,218.2 790.8,216.5 791.5,216.6 792.2,217.7 792.9,217.7 793.6,218.6 794.3,218.3 795.0,217.9 795.7,218.9 796.4,218.0 797.1,218.1 797.8,218.5 798.5,217.9 799.2,217.9 799.9,218.5 800.6,218.0 801.3,219.3 802.0,218.8 802.7,218.6 803.4,217.8 804.1,218.4 804.8,218.5 805.5,218.9 806.2,219.0 806.9,219.6 807.6,219.9 808.3,219.0" fill="none" stroke="#23a659" stroke-width="3.2" stroke-linejoin="round"/>
<polyline points="454.2,259.0 454.2,259.4 454.2,259.5 454.2,257.2 454.3,256.6 454.3,256.7 454.3,255.8 454.3,255.3 454.3,254.9 454.3,253.0 454.3,252.5 454.3,251.8 454.4,250.6 454.4,251.6 454.4,250.6 454.4,249.8 454.4,247.7 454.4,248.6 454.4,247.7 454.4,246.4 454.5,246.3 454.5,245.0 454.5,243.8 454.5,242.9 454.5,242.4 454.5,241.3 454.5,241.2 454.5,241.3 454.6,240.5 454.6,240.1 454.6,239.1 454.6,237.5 454.6,237.4 454.7,236.5 454.7,236.4 454.8,235.2 454.8,234.0 454.8,234.0 454.9,234.0 454.9,231.8 454.9,232.4 455.0,229.9 455.0,229.7 455.1,228.9 455.1,229.3 455.1,228.9 455.2,227.8 455.2,226.3 455.2,226.7 455.3,224.9 455.3,224.0 455.4,224.6 455.4,223.3 455.4,222.8 455.5,222.0 455.5,221.9 455.5,220.2 455.6,220.2 455.6,219.2 455.7,218.8 455.7,217.3 456.5,217.4 457.3,216.6 457.7,216.7 458.2,217.2 458.6,218.6 458.8,216.8 458.9,217.8 459.1,215.5 459.2,214.6 459.4,214.0 459.6,215.0 459.7,213.1 459.9,212.0 460.0,211.0 460.2,210.3 460.3,210.9 460.5,210.1 460.6,209.5 460.6,208.9 460.7,206.8 460.8,207.2 460.8,206.0 460.9,206.2 460.9,205.5 461.0,205.0 461.1,202.6 461.1,203.5 461.2,202.9 461.3,202.3 461.3,199.9 461.4,199.4 461.5,198.5 461.5,197.7 461.6,198.6 461.6,197.8 461.7,196.8 461.8,196.5 461.8,195.4 461.9,194.0 461.9,192.9 462.0,192.2 462.0,192.8 462.1,191.0 462.1,190.5 462.2,190.0 462.2,188.5 462.3,188.3 462.3,187.7 462.4,187.8 462.4,186.4 462.4,185.6 462.5,186.2 462.5,184.6 462.6,184.6 462.6,183.4 462.7,181.6 462.7,181.6 462.8,181.0 462.8,180.9 462.9,179.4 462.9,179.4 463.0,178.4 463.0,177.0 463.1,179.1 463.2,178.3 463.3,180.5 463.4,179.9 463.5,180.3 463.6,181.4 463.7,183.3 463.7,184.5 463.8,183.3 463.9,185.0 464.0,185.7 464.1,187.1 464.2,186.6 464.3,187.9 464.4,188.4 464.5,190.1 464.7,189.7 464.8,191.8 465.0,191.2 465.1,191.8 465.3,193.5 465.4,193.9 465.6,193.8 465.7,195.6 465.9,195.2 466.0,197.4 466.2,198.0 466.3,198.9 467.0,198.1 467.7,197.1 468.4,196.7 469.1,196.2 469.9,197.0 470.7,195.2 471.4,196.6 472.2,194.7 473.0,194.8 473.5,195.5 474.1,197.3 474.6,197.0 475.2,197.3 475.7,198.9 476.3,198.1 476.8,199.1 477.5,199.5 478.2,200.2 479.0,200.5 479.7,200.5 480.0,199.3 480.3,198.6 480.6,197.6 481.0,198.3 481.3,197.3 481.6,196.8 481.9,195.0 482.2,194.9 482.6,195.0 482.9,193.9 483.2,192.4 483.5,192.4 483.7,192.6 483.9,190.6 484.1,189.8 484.3,189.4 484.5,189.5 484.7,189.1 484.8,187.0 485.0,186.3 485.2,185.8 485.4,185.3 485.6,185.0 485.8,183.6 486.0,183.2" fill="none" stroke="#23a659" stroke-width="2.8" stroke-linejoin="round"/>
<text transform="translate(578,179.9) scale(1,1.07)" x="0" y="0" font-family="Liberation Sans, sans-serif" font-weight="bold" font-size="14.5" fill="#23a659" stroke="#23a659" stroke-width="0.3">TiO<tspan dy="6">2</tspan><tspan dy="-6">-Ni(OH)</tspan><tspan dy="6">2</tspan><tspan dy="-6">/CNT/CdS</tspan></text>
<text transform="translate(575,225.7) scale(1,1.07)" x="0" y="0" font-family="Liberation Sans, sans-serif" font-weight="bold" font-size="14.5" fill="#ec933c" stroke="#ec933c" stroke-width="0.3">CdS</text>
<text transform="translate(575.3,273.4) scale(1,1.07)" x="0" y="0" font-family="Liberation Sans, sans-serif" font-weight="bold" font-size="14.8" fill="#2c389f" stroke="#2c389f" stroke-width="0.3">CNT</text>
<text transform="translate(728,293.7) scale(1,1.07)" x="0" y="0" font-family="Liberation Sans, sans-serif" font-weight="bold" font-size="15" fill="#dc3f82" stroke="#dc3f82" stroke-width="0.3">TiO<tspan dy="4.8">2</tspan></text>
<text transform="translate(723.5,204.3) scale(1,1.07)" x="0" y="0" font-family="Liberation Sans, sans-serif" font-weight="bold" font-size="16" fill="#111" stroke="#111" stroke-width="0.3">D</text>
<text transform="translate(773.3,208.4) scale(1,1.07)" x="0" y="0" font-family="Liberation Sans, sans-serif" font-weight="bold" font-size="16" fill="#111" stroke="#111" stroke-width="0.3">G</text>
<g fill="#000"><circle cx="503.5" cy="53.8" r="2.70"/><circle cx="500.1" cy="58.4" r="2.70"/><circle cx="506.9" cy="58.4" r="2.70"/><path d="M502.8,56.0 L504.2,56.0 L505.3,62.8 L501.7,62.8 Z"/><circle cx="503.5" cy="57.3" r="1.3"/></g>
<g fill="#000"><circle cx="565.0" cy="165.4" r="2.70"/><circle cx="561.6" cy="170.0" r="2.70"/><circle cx="568.4" cy="170.0" r="2.70"/><path d="M564.3,167.6 L565.7,167.6 L566.8,174.4 L563.2,174.4 Z"/><circle cx="565.0" cy="168.9" r="1.3"/></g>
<g fill="#000"><circle cx="629.5" cy="184.8" r="2.70"/><circle cx="626.1" cy="189.4" r="2.70"/><circle cx="632.9" cy="189.4" r="2.70"/><path d="M628.8,187.0 L630.2,187.0 L631.3,193.8 L627.7,193.8 Z"/><circle cx="629.5" cy="188.3" r="1.3"/></g>
<g fill="#000"><path d="M466.4,158.1 C467.7,160.5 471.9,162.7 471.7,165.6 C471.3,167.8 468.0,167.6 466.4,165.4 C464.8,167.6 461.4,167.8 461.1,165.6 C460.9,162.7 465.1,160.5 466.4,158.1 Z"/><path d="M465.8,164.7 L467.0,164.7 L467.7,168.5 L465.1,168.5 Z"/></g>
<path fill="#000" d="M684.3,185.70000000000002 L689.5,192.3 L684.3,198.9 L679.0999999999999,192.3 Z"/>
</svg>
</body></html>
